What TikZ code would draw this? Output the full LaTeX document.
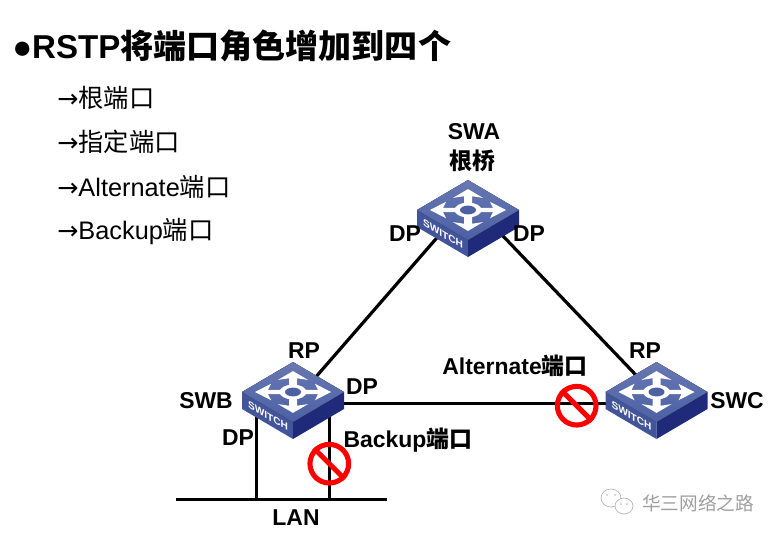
\documentclass[tikz,border=0pt]{standalone}
\usepackage{fontspec}
\setmainfont{Liberation Sans}
\newfontfamily\cjk{Noto Sans CJK SC}
\newfontfamily\sym{DejaVu Sans}
\usetikzlibrary{backgrounds}

\definecolor{topblue}{HTML}{4C60A4}
\definecolor{sideblue}{HTML}{42549A}
\definecolor{darkblue}{HTML}{1F2B7A}

\tikzset{
  label/.style={font=\fontsize{17.2}{20}\selectfont\bfseries, inner sep=0pt},
  item/.style={font=\fontsize{19}{22}\selectfont, anchor=west, inner sep=0pt},
  link/.style={line width=2.4pt, black},
  nosign/.style={circle, draw=red, line width=3.8pt, minimum size=29pt, inner sep=0pt},
  pics/switchbox/.style={code={
    \coordinate (-n) at (0,-30);
    \coordinate (-w) at (-51,0);
    \coordinate (-e) at (51,0);
    \coordinate (-s) at (0,30);
    \fill[sideblue] (-51,0) -- (0,30) -- (0,47) -- (-51,17) -- cycle;
    \fill[darkblue] (51,0) -- (0,30) -- (0,47) -- (51,17) -- cycle;
    \fill[top color=topblue!85!white, bottom color=topblue] (-n) -- (-e) -- (-s) -- (-w) -- cycle;
    \begin{scope}[yscale=0.55]
      \foreach \a in {0,90,180,270} {
        \fill[white, rotate=\a] (10,-4) -- (25,-4) -- (22,-15) -- (38,0) -- (22,15) -- (25,4) -- (10,4) -- cycle;
      }
      \fill[white] (0,0) circle[radius=13.5];
      \fill[topblue] (0,0) circle[radius=8];
    \end{scope}
    \node[font=\fontsize{7.6}{8}\selectfont\bfseries, text=white, inner sep=0pt, cm={1,-.588,0,1,(0,0)}] (-text) at (-25,24) {SWITCH};
  }}
}

\begin{document}
\begin{tikzpicture}[x=0.75pt, y=-0.75pt]
  \useasboundingbox (0,0) rectangle (778,536);

  % heading and list
  \node[font=\fontsize{24.8}{28}\selectfont\bfseries, anchor=west, inner sep=0pt] (title) at (12,46) {●RSTP{\cjk 将端口角色增加到四个}};
  \node[item] (item1) at (57,98)  {{\sym →}{\cjk 根端口}};
  \node[item] (item2) at (57,142) {{\sym →}{\cjk 指定端口}};
  \node[item] (item3) at (57,187) {{\sym →}Alternate{\cjk 端口}};
  \node[item] (item4) at (57,232) {{\sym →}Backup{\cjk 端口}};

  % switches
  \pic (swa) at (468,210) {switchbox};
  \pic (swb) at (293,392) {switchbox};
  \pic (swc) at (656.5,392) {switchbox};

  \coordinate (swa-dl) at (448,225);
  \coordinate (swa-dr) at (492.5,225);
  \coordinate (swb-rp) at (308,386);
  \coordinate (swc-rp) at (644.5,384);
  \coordinate (swb-dp) at (333,403.3);
  \coordinate (swc-ap) at (617,403.3);
  \coordinate (swb-dl) at (256.3,417);
  \coordinate (swb-bk) at (329.3,417);
  \coordinate (lan-l) at (176,499.3);
  \coordinate (lan-r) at (386.7,499.3);

  \begin{scope}[on background layer]
    \draw[link] (swa-dl) -- (swb-rp);
    \draw[link] (swa-dr) -- (swc-rp);
    \draw[link] (swb-dp) -- (swc-ap);
    \draw[link] (swb-dl) -- (swb-dl |- lan-l);
    \draw[link] (swb-bk) -- (swb-bk |- lan-l);
    \draw[link] (lan-l) -- (lan-r);
  \end{scope}

  % blocked ports
  \node[nosign] (blockc) at (576.7,405.7) {};
  \draw[red, line width=3.8pt] (blockc.north west) -- (blockc.south east);
  \node[nosign] (blockb) at (329.3,463.7) {};
  \draw[red, line width=3.8pt] (blockb.north west) -- (blockb.south east);

  % labels
  \node[label] (swaname) at (474,132) {SWA};
  \node[label] (swaroot) at (472,161) {\cjk 根桥};
  \node[label] (dpa1) at (405,234) {DP};
  \node[label] (dpa2) at (529,234) {DP};
  \node[label] (rpb) at (304,351) {RP};
  \node[label] (swbname) at (206,401) {SWB};
  \node[label] (dpb1) at (362,387) {DP};
  \node[label] (dpb2) at (238,438) {DP};
  \node[label] (bkname) at (408,440) {Backup{\cjk 端口}};
  \node[label] (lanname) at (296,518) {LAN};
  \node[label] (altname) at (515,366) {Alternate{\cjk 端口}};
  \node[label] (rpc) at (645,351) {RP};
  \node[label] (swcname) at (737,401) {SWC};

  % watermark
  \draw[gray!60, line width=0.5pt] (611,498) ellipse[x radius=10, y radius=9];
  \draw[gray!60, line width=0.5pt, fill=white] (624,506) ellipse[x radius=9, y radius=8];
  \foreach \p in {(607,495),(615,495),(621,504),(627,504)} {
    \fill[gray!60] \p circle[radius=0.8];
  }
  \node[font=\fontsize{14}{16}\selectfont\cjk, text=gray!75, inner sep=0pt, anchor=west] (mark) at (642,503) {华三网络之路};
\end{tikzpicture}
\end{document}
